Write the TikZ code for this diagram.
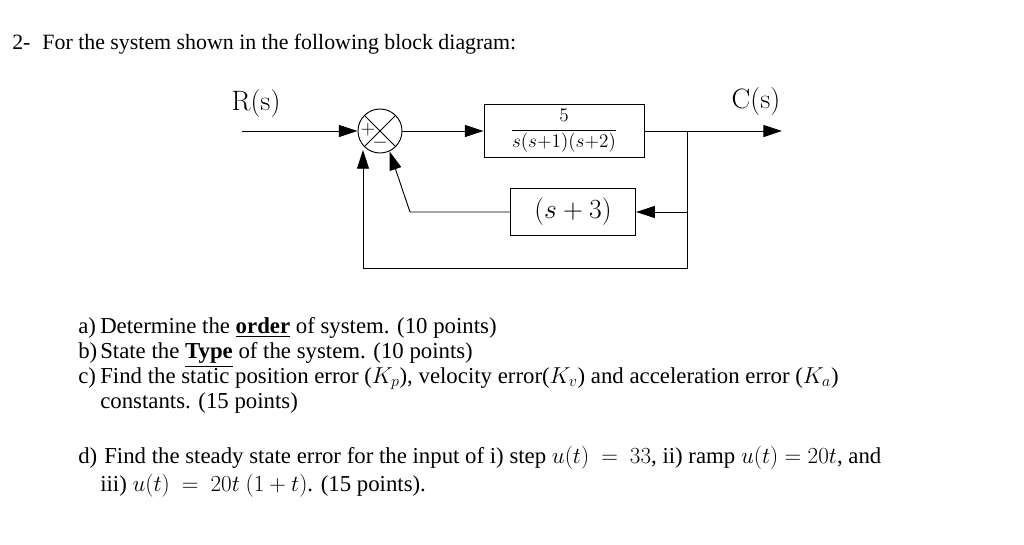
\documentclass[tikz,border=0pt]{standalone}
\usepackage{fontspec}
\setmainfont{Liberation Serif}
\newfontfamily\cmfont{Latin Modern Roman}
\usepackage{amsmath}
\usetikzlibrary{arrows.meta}
\usetikzlibrary{positioning}
\begin{document}
\begin{tikzpicture}[x=0.75pt,y=-0.75pt,
  blk/.style={draw, line width=0.7pt, inner sep=2pt},
  sig/.style={-{Triangle[length=14pt,width=9pt]}, line width=0.7pt},
  txt/.style={anchor=base west, font=\fontsize{17.1}{20}\selectfont, inner sep=0pt}]
\useasboundingbox (0,0) rectangle (1024,544);
% block diagram
\node[circle, draw, line width=0.7pt, minimum size=33pt, inner sep=0pt] (sum) at (380,131) {};
\draw[line width=0.6pt] (sum.north west) -- (sum.south east) (sum.north east) -- (sum.south west);
\node[font=\fontsize{15}{15}\selectfont] at ([xshift=-9pt,yshift=1pt]sum.center) {$+$};
\node[font=\fontsize{15}{15}\selectfont] at ([yshift=-9pt]sum.center) {$-$};
\node[blk, minimum width=120pt, minimum height=40pt, font=\fontsize{14}{16}\selectfont] (G) at (564,131) {$\dfrac{5}{s(s{+}1)(s{+}2)}$};
\node[blk, minimum width=94pt, minimum height=35pt, font=\fontsize{22}{24}\selectfont] (H) at (573,212) {$(s+3)$};
\coordinate (br) at (687,131);
\coordinate (in) at (242,131);
\coordinate (out) at (782,131);
\coordinate (hl) at (410,212);
\coordinate (br2) at (687,268);
\coordinate (bl) at (363,268);
\node[font=\cmfont\fontsize{21}{21}\selectfont] (R) at (256,104) {R(s)};
\node[font=\cmfont\fontsize{21}{21}\selectfont] (C) at (756,102) {C(s)};
\draw[sig] (in) -- (sum.west);
\draw[sig] (sum.east) -- (G.west);
\draw[line width=0.7pt] (G.east) -- (br);
\draw[sig] (br) -- (out);
\draw[sig] (br) |- (H.east);
\draw[sig] (H.west) -- (hl) -- (sum.-65);
\draw[sig] (br) -- (br2) -- (bl) -- (bl |- sum.-122);
% text
\node[txt, font=\fontsize{16.4}{20}\selectfont] (q) at (12,49) {2-\hspace{9pt}For the system shown in the following block diagram:};
\node[txt] (a) at (78,333) {a)};
\node[txt] (at) at (100,333) {Determine the \textbf{\underline{order}} of system. (10 points)};
\node[txt] (b) at (78,358) {b)};
\node[txt] (bt) at (100,358) {State the \textbf{\underline{Type}} of the system. (10 points)};
\node[txt] (c) at (78,383) {c)};
\node[txt] (ct) at (100,383) {Find the static position error ($K_p$), velocity error($K_v$) and acceleration error ($K_a$)};
\node[txt] (c2) at (100,408) {constants. (15 points)};
\node[txt] (d) at (78,463) {d)};
\node[txt] (dt) at (104,463) {Find the steady state error for the input of i) step $u(t)\ =\ 33$, ii) ramp $u(t) = 20t$, and};
\node[txt] (d2) at (100,491) {iii) $u(t)\ =\ 20t\ (1+t)$. (15 points).};
\end{tikzpicture}
\end{document}
